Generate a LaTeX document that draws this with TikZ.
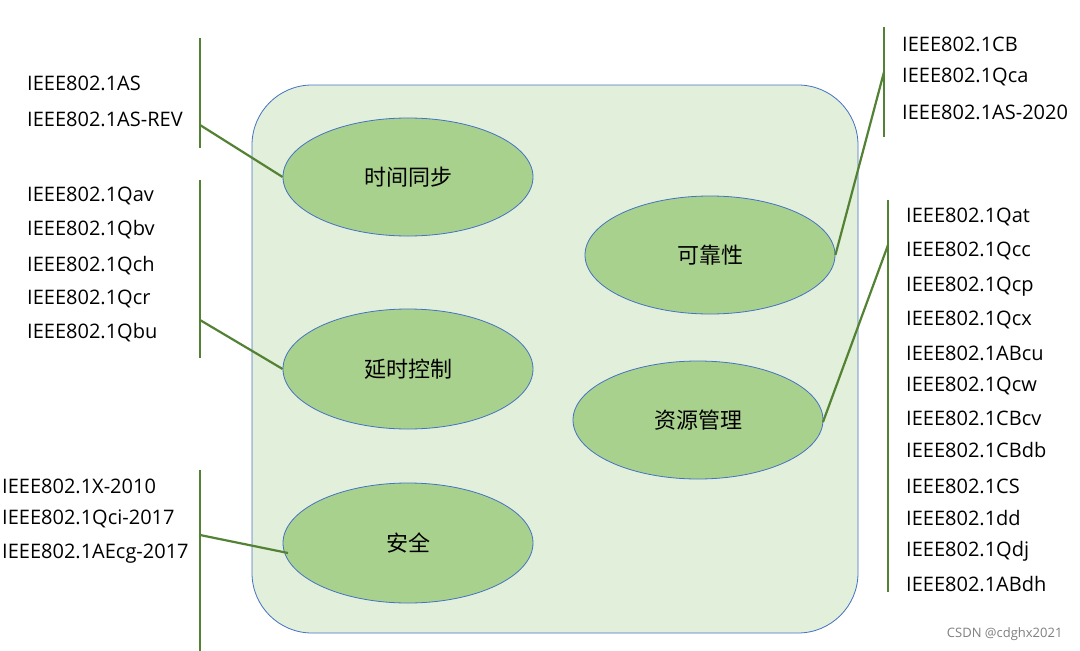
\documentclass[tikz,border=0pt]{standalone}
\usepackage{fontspec}
\setmainfont{Open Sans}
\newfontfamily\cjk{Noto Sans CJK SC}
\definecolor{bgg}{RGB}{226,239,218}
\definecolor{elg}{RGB}{169,209,142}
\definecolor{bl}{RGB}{68,114,196}
\definecolor{bar}{RGB}{84,130,53}
\tikzset{
 el/.style={ellipse,draw=bl,fill=elg,line width=0.8pt,minimum width=250pt,minimum height=118pt,font=\cjk\fontsize{22}{26}\selectfont},
 lbl/.style={anchor=west,inner sep=0pt,font=\fontsize{20}{24}\selectfont},
 br/.style={draw=bar,line width=2.5pt},
 cn/.style={draw=bar,line width=2.2pt}
}
\usetikzlibrary{shapes.geometric}
\begin{document}
\begin{tikzpicture}[x=1pt,y=-1pt]
\useasboundingbox (0,0) rectangle (1080,651);
\fill[white] (0,0) rectangle (1080,651);
\draw[draw=bl,fill=bgg,line width=0.8pt,rounded corners=60pt] (252,85) rectangle (858,633);
\node[el] (e1) at (408,177) {时间同步};
\node[el] (e2) at (710,255) {可靠性};
\node[el,minimum height=120pt] (e3) at (408,369) {延时控制};
\node[el] (e4) at (698,420) {资源管理};
\node[el,minimum height=120pt] (e5) at (408,543) {安全};
\coordinate (b1t) at (200,38); \coordinate (b1b) at (200,148);
\coordinate (b2t) at (200,180); \coordinate (b2b) at (200,358);
\coordinate (b3t) at (200,470); \coordinate (b3b) at (200,651);
\coordinate (b4t) at (884,27); \coordinate (b4b) at (884,137);
\coordinate (b5t) at (888,200); \coordinate (b5b) at (888,592);
\draw[br] (b1t)--(b1b); \draw[br] (b2t)--(b2b); \draw[br] (b3t)--(b3b);
\draw[br] (b4t)--(b4b); \draw[br] (b5t)--(b5b);
\coordinate (c1) at (200,125); \coordinate (c2) at (200,320); \coordinate (c3) at (200,535);
\coordinate (c4) at (884,72); \coordinate (c5) at (888,245);
\draw[cn] (c1)--(e1.west);
\draw[cn] (c2)--(e3.west);
\draw[cn] (c3)--(288,553);
\draw[cn] (c4)--(e2.east);
\draw[cn] (c5)--(823,422);
\foreach \t/\y in {IEEE802.1AS/83,IEEE802.1AS-REV/119,IEEE802.1Qav/196,IEEE802.1Qbv/230,IEEE802.1Qch/266,IEEE802.1Qcr/299,IEEE802.1Qbu/333}
 \node[lbl] (l\y) at (27,\y) {\t};
\foreach \t/\y in {IEEE802.1X-2010/486,IEEE802.1Qci-2017/519,IEEE802.1AEcg-2017/554}
 \node[lbl] (m\y) at (2,\y) {\t};
\foreach \t/\y in {IEEE802.1CB/44,IEEE802.1Qca/77,IEEE802.1AS-2020/112}
 \node[lbl] (r\y) at (902,\y) {\t};
\foreach \t/\y in {IEEE802.1Qat/217,IEEE802.1Qcc/251,IEEE802.1Qcp/287,IEEE802.1Qcx/320,IEEE802.1ABcu/353,IEEE802.1Qcw/386,IEEE802.1CBcv/418,IEEE802.1CBdb/450,IEEE802.1CS/486,IEEE802.1dd/518,IEEE802.1Qdj/551,IEEE802.1ABdh/584}
 \node[lbl] (s\y) at (906,\y) {\t};
\node[anchor=east,text=gray,font=\fontsize{13}{15}\selectfont] (wm) at (1066,634) {CSDN @cdghx2021};
\end{tikzpicture}
\end{document}
